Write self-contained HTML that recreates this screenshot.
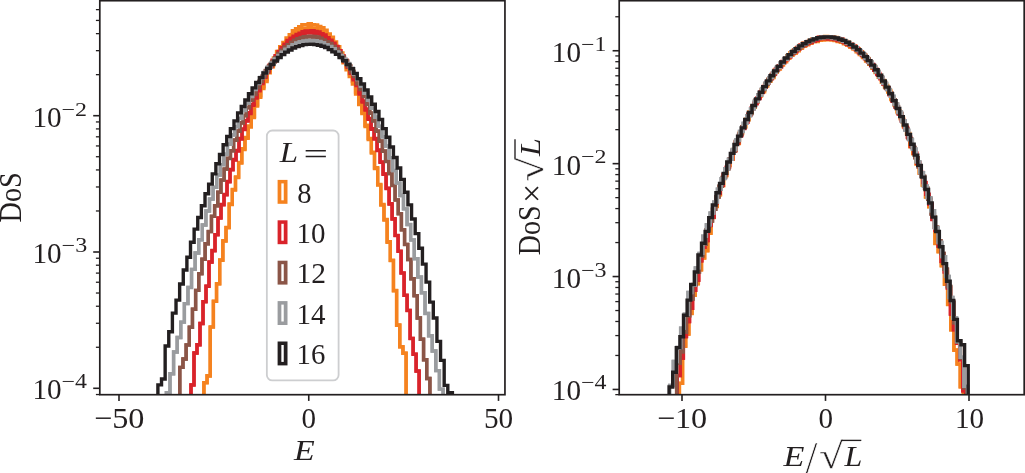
<!DOCTYPE html>
<html><head><meta charset="utf-8"><title>DoS</title>
<style>html,body{margin:0;padding:0;background:#fff}svg{display:block}</style></head>
<body>
<svg width="1025" height="473" viewBox="0 0 1025 473" font-family="'Liberation Serif', serif" fill="#231f20">
<rect width="1025" height="473" fill="#fff"/>
<defs>
<clipPath id="cl"><rect x="99.8" y="0.7" width="405.15" height="394.0"/></clipPath>
<clipPath id="cr"><rect x="619.2" y="0.7" width="405.0" height="394.0"/></clipPath>
</defs>
<g clip-path="url(#cl)"><path d="M203.90,398.70V382.78H207.06V375.98H210.22V327.08H213.38V301.36H216.54V283.92H219.70V260.27H222.86V241.13H226.02V227.70H229.18V204.43H232.33V189.95H235.49V177.52H238.65V163.10H241.81V149.46H244.97V138.34H248.13V127.05H251.29V117.43H254.45V106.12H257.61V97.24H260.77V88.64H263.93V81.54H267.09V72.84H270.25V66.70H273.41V60.69H276.57V54.25H279.73V49.80H282.88V45.62H286.04V41.25H289.20V38.23H292.36V34.28H295.52V32.19H298.68V30.32H301.84V28.40H305.00V28.25H308.16V27.32H311.32V28.24H314.48V28.64H317.64V30.13H320.80V31.33H323.96V33.75H327.12V37.43H330.28V40.81H333.43V45.42H336.59V50.14H339.75V56.14H342.91V62.73H346.07V69.75H349.23V76.54H352.39V84.00H355.55V94.08H358.71V104.54H361.87V113.63H365.03V126.62H368.19V139.49H371.35V153.10H374.51V168.57H377.67V185.12H380.83V205.10H383.98V220.01H387.14V242.24H390.30V260.58H393.46V290.78H396.62V325.24H399.78V346.91H402.94V353.30H406.10V398.70" fill="none" stroke="#f5821f" stroke-width="3.4" stroke-linejoin="miter"/>
<path d="M203.90,398.70V382.62H207.06V375.82H210.22V326.90H213.38V301.15H216.54V283.69H219.70V260.01H222.86V240.82H226.02V227.35H229.18V204.03H232.33V189.48H235.49V176.98H238.65V162.47H241.81V148.73H244.97V137.50H248.13V126.07H251.29V116.29H254.45V104.80H257.61V95.73H260.77V86.90H263.93V79.57H267.09V70.63H270.25V64.25H273.41V58.00H276.57V51.36H279.73V46.71H282.88V42.38H286.04V37.88H289.20V34.77H292.36V30.76H295.52V28.63H298.68V26.74H301.84V24.80H305.00V24.65H308.16V23.72H311.32V24.64H314.48V25.04H317.64V26.53H320.80V27.73H323.96V30.16H327.12V33.87H330.28V37.28H333.43V41.96H336.59V46.77H339.75V52.91H342.91V59.67H346.07V66.90H349.23V73.92H352.39V81.64H355.55V91.99H358.71V102.71H361.87V112.05H365.03V125.27H368.19V138.34H371.35V152.13H374.51V167.75H377.67V184.43H380.83V204.51H383.98V219.52H387.14V241.82H390.30V260.23H393.46V290.47H396.62V324.99H399.78V346.69H402.94V353.10H406.10V398.70" fill="none" stroke="#f5821f" stroke-width="3.4" stroke-linejoin="miter"/>
<path d="M191.00,398.70V384.94H194.00V353.04H197.00V344.82H200.00V323.57H203.01V301.74H206.01V286.27H209.01V262.16H212.01V250.71H215.01V234.77H218.01V218.13H221.01V204.80H224.01V194.70H227.02V181.82H230.02V169.88H233.02V159.95H236.02V150.94H239.02V139.01H242.02V129.56H245.02V121.09H248.03V113.51H251.03V105.20H254.03V97.93H257.03V90.78H260.03V83.57H263.03V77.37H266.03V71.96H269.03V66.67H272.04V61.70H275.04V57.37H278.04V53.23H281.04V49.63H284.04V46.06H287.04V42.41H290.04V40.17H293.04V38.26H296.05V36.43H299.05V35.07H302.05V33.65H305.05V32.95H308.05V33.16H311.05V32.74H314.05V33.54H317.06V33.91H320.06V35.59H323.06V36.92H326.06V39.69H329.06V42.25H332.06V45.14H335.06V48.41H338.06V52.48H341.07V57.42H344.07V61.86H347.07V67.26H350.07V73.26H353.07V79.71H356.07V85.64H359.07V93.94H362.08V102.16H365.08V109.97H368.08V119.41H371.08V129.34H374.08V139.14H377.08V150.48H380.08V162.42H383.08V174.31H386.09V188.51H389.09V204.15H392.09V219.06H395.09V235.67H398.09V251.38H401.09V273.09H404.09V295.38H407.09V310.53H410.10V338.46H413.10V354.25H416.10V371.15H419.10V398.70" fill="none" stroke="#d9232a" stroke-width="3.4" stroke-linejoin="miter"/>
<path d="M191.00,398.70V384.86H194.00V352.96H197.00V344.73H200.00V323.47H203.01V301.62H206.01V286.14H209.01V262.01H212.01V250.54H215.01V234.58H218.01V217.92H221.01V204.56H224.01V194.43H227.02V181.51H230.02V169.53H233.02V159.55H236.02V150.49H239.02V138.50H242.02V128.99H245.02V120.44H248.03V112.78H251.03V104.37H254.03V97.00H257.03V89.74H260.03V82.42H263.03V76.11H266.03V70.58H269.03V65.19H272.04V60.12H275.04V55.69H278.04V51.47H281.04V47.80H284.04V44.18H287.04V40.49H290.04V38.22H293.04V36.29H296.05V34.46H299.05V33.08H302.05V31.66H305.05V30.96H308.05V31.17H311.05V30.75H314.05V31.55H317.06V31.92H320.06V33.61H323.06V34.93H326.06V37.71H329.06V40.28H332.06V43.18H335.06V46.48H338.06V50.60H341.07V55.58H344.07V60.10H347.07V65.58H350.07V71.68H353.07V78.24H356.07V84.29H359.07V92.71H362.08V101.06H365.08V108.99H368.08V118.54H371.08V128.59H374.08V138.48H377.08V149.90H380.08V161.92H383.08V173.87H386.09V188.13H389.09V203.82H392.09V218.77H395.09V235.42H398.09V251.17H401.09V272.91H404.09V295.22H407.09V310.39H410.10V338.34H413.10V354.15H416.10V371.05H419.10V398.70" fill="none" stroke="#d9232a" stroke-width="3.4" stroke-linejoin="miter"/>
<path d="M179.80,398.70V367.42H182.97V359.02H186.13V344.93H189.30V327.30H192.46V309.30H195.63V290.41H198.79V273.70H201.96V259.29H205.13V243.78H208.29V231.65H211.46V216.39H214.62V205.88H217.79V192.22H220.96V180.10H224.12V169.09H227.29V158.49H230.45V150.88H233.62V140.22H236.78V131.22H239.95V123.01H243.12V115.88H246.28V107.84H249.45V100.26H252.61V94.65H255.78V87.74H258.95V81.66H262.11V76.60H265.28V71.11H268.44V66.71H271.61V62.22H274.77V58.15H277.94V54.22H281.11V50.94H284.27V47.73H287.44V45.49H290.60V43.05H293.77V40.92H296.94V39.44H300.10V38.63H303.27V37.40H306.43V37.17H309.60V36.90H312.76V37.19H315.93V37.66H319.10V38.92H322.26V40.75H325.43V42.46H328.59V44.24H331.76V47.06H334.93V49.78H338.09V53.40H341.26V57.48H344.42V61.36H347.59V66.52H350.75V72.01H353.92V76.62H357.09V83.79H360.25V89.67H363.42V96.66H366.58V104.52H369.75V113.37H372.92V120.96H376.08V131.38H379.25V141.26H382.41V151.21H385.58V161.53H388.74V173.62H391.91V185.59H395.08V200.00H398.24V213.72H401.41V229.86H404.57V244.47H407.74V259.53H410.91V278.75H414.07V295.71H417.24V318.04H420.40V339.29H423.57V359.79H426.73V378.52H429.90V398.70" fill="none" stroke="#8b5547" stroke-width="3.4" stroke-linejoin="miter"/>
<path d="M179.80,398.70V367.38H182.97V358.98H186.13V344.89H189.30V327.26H192.46V309.25H195.63V290.35H198.79V273.64H201.96V259.22H205.13V243.70H208.29V231.57H211.46V216.30H214.62V205.77H217.79V192.10H220.96V179.97H224.12V168.94H227.29V158.32H230.45V150.69H233.62V140.00H236.78V130.97H239.95V122.73H243.12V115.57H246.28V107.49H249.45V99.87H252.61V94.22H255.78V87.26H258.95V81.13H262.11V76.03H265.28V70.50H268.44V66.06H271.61V61.53H274.77V57.43H277.94V53.48H281.11V50.17H284.27V46.95H287.44V44.70H290.60V42.25H293.77V40.10H296.94V38.63H300.10V37.82H303.27V36.58H306.43V36.35H309.60V36.08H312.76V36.38H315.93V36.84H319.10V38.11H322.26V39.93H325.43V41.65H328.59V43.43H331.76V46.25H334.93V48.98H338.09V52.61H341.26V56.71H344.42V60.61H347.59V65.80H350.75V71.32H353.92V75.97H357.09V83.18H360.25V89.11H363.42V96.15H366.58V104.06H369.75V112.96H372.92V120.60H376.08V131.05H379.25V140.98H382.41V150.96H385.58V161.31H388.74V173.43H391.91V185.42H395.08V199.86H398.24V213.60H401.41V229.75H404.57V244.38H407.74V259.44H410.91V278.68H414.07V295.65H417.24V317.98H420.40V339.24H423.57V359.75H426.73V378.48H429.90V398.70" fill="none" stroke="#8b5547" stroke-width="3.4" stroke-linejoin="miter"/>
<path d="M166.40,398.70V392.81H170.00V373.81H173.59V352.01H177.18V337.50H180.78V322.11H184.37V303.65H187.96V287.44H191.55V269.36H195.14V252.98H198.74V239.79H202.33V225.03H205.92V211.06H209.51V199.10H213.10V187.33H216.70V175.02H220.29V164.69H223.88V154.26H227.47V144.21H231.06V135.01H234.66V126.76H238.25V118.50H241.84V110.45H245.43V103.17H249.02V96.60H252.62V89.44H256.21V83.61H259.80V77.82H263.39V72.88H266.98V67.65H270.58V63.49H274.17V59.38H277.76V55.91H281.35V52.49H284.94V49.65H288.54V47.18H292.13V45.04H295.72V43.42H299.31V42.03H302.90V41.37H306.50V40.98H310.09V40.80H313.68V41.07H317.27V41.76H320.86V43.02H324.46V45.00H328.05V46.77H331.64V49.12H335.23V52.26H338.82V55.74H342.42V59.49H346.01V63.95H349.60V68.60H353.19V74.02H356.78V79.61H360.38V86.10H363.97V93.22H367.56V100.36H371.15V108.26H374.74V117.23H378.34V126.38H381.93V136.88H385.52V146.14H389.11V157.92H392.70V170.62H396.30V183.14H399.89V195.54H403.48V208.91H407.07V224.62H410.66V239.94H414.26V258.68H417.85V277.11H421.44V292.75H425.03V313.44H428.62V335.85H432.22V351.01H435.81V370.61H439.40V389.11H443.10V398.70" fill="none" stroke="#9a9c9f" stroke-width="3.4" stroke-linejoin="miter"/>
<path d="M166.40,398.70V392.79H170.00V373.79H173.59V351.99H177.18V337.48H180.78V322.09H184.37V303.63H187.96V287.41H191.55V269.33H195.14V252.94H198.74V239.76H202.33V224.98H205.92V211.01H209.51V199.05H213.10V187.27H216.70V174.95H220.29V164.60H223.88V154.17H227.47V144.10H231.06V134.89H234.66V126.62H238.25V118.34H241.84V110.27H245.43V102.97H249.02V96.38H252.62V89.20H256.21V83.34H259.80V77.53H263.39V72.57H266.98V67.31H270.58V63.14H274.17V59.01H277.76V55.53H281.35V52.10H284.94V49.25H288.54V46.78H292.13V44.63H295.72V43.02H299.31V41.63H302.90V40.96H306.50V40.57H310.09V40.39H313.68V40.66H317.27V41.35H320.86V42.61H324.46V44.59H328.05V46.36H331.64V48.71H335.23V51.86H338.82V55.35H342.42V59.10H346.01V63.57H349.60V68.24H353.19V73.67H356.78V79.28H360.38V85.79H363.97V92.93H367.56V100.11H371.15V108.03H374.74V117.02H378.34V126.20H381.93V136.72H385.52V146.01H389.11V157.80H392.70V170.51H396.30V183.05H399.89V195.47H403.48V208.84H407.07V224.56H410.66V239.89H414.26V258.63H417.85V277.07H421.44V292.72H425.03V313.41H428.62V335.82H432.22V350.99H435.81V370.59H439.40V389.09H443.10V398.70" fill="none" stroke="#9a9c9f" stroke-width="3.4" stroke-linejoin="miter"/>
<path d="M157.90,398.70V384.90H161.52V379.00H165.15V346.02H168.77V331.72H172.40V313.11H176.02V300.16H179.64V283.98H183.27V269.95H186.89V257.18H190.51V242.31H194.14V229.08H197.76V217.52H201.38V205.71H205.01V193.75H208.63V184.17H212.26V173.90H215.88V163.71H219.50V154.45H223.13V144.74H226.75V136.49H230.38V128.63H234.00V120.84H237.62V112.85H241.25V106.56H244.87V100.03H248.49V93.70H252.12V87.86H255.74V82.50H259.37V77.59H262.99V72.93H266.61V68.38H270.24V64.49H273.86V61.05H277.48V57.47H281.11V54.60H284.73V52.16H288.36V49.96H291.98V48.06H295.60V46.66H299.23V45.60H302.85V44.63H306.47V44.41H310.10V44.15H313.72V44.66H317.35V45.20H320.97V46.26H324.59V47.48H328.22V49.61H331.84V51.86H335.46V54.38H339.09V57.45H342.71V60.81H346.34V64.53H349.96V68.75H353.58V73.34H357.21V78.78H360.83V83.93H364.45V90.07H368.08V96.93H371.70V104.31H375.32V111.48H378.95V119.50H382.57V128.62H386.20V137.24H389.82V147.03H393.44V157.53H397.07V167.98H400.69V179.37H404.31V192.24H407.94V204.84H411.56V219.03H415.19V233.63H418.81V248.32H422.43V264.08H426.06V282.17H429.68V302.14H433.30V318.06H436.93V341.33H440.55V360.35H444.18V385.40H447.80V392.80H452.40V398.70" fill="none" stroke="#231f20" stroke-width="3.4" stroke-linejoin="miter"/></g>
<g clip-path="url(#cr)"><path d="M673.10,398.70V398.70H676.26V398.70H679.41V383.42H682.57V346.24H685.72V334.14H688.88V313.46H692.03V295.20H695.19V283.80H698.34V269.92H701.50V257.97H704.65V250.88H707.81V233.30H710.97V217.59H714.12V206.63H717.28V194.85H720.43V185.78H723.59V175.72H726.74V165.74H729.90V159.26H733.05V150.19H736.21V143.59H739.36V133.60H742.52V127.28H745.68V120.14H748.83V113.02H751.99V107.22H755.14V102.01H758.30V96.05H761.45V91.76H764.61V85.99H767.76V81.40H770.92V77.54H774.07V72.41H777.23V69.10H780.38V65.04H783.54V61.92H786.70V58.38H789.85V55.38H793.01V53.21H796.16V50.92H799.32V48.39H802.47V46.20H805.63V44.76H808.78V43.34H811.94V41.87H815.09V41.62H818.25V40.42H821.41V40.11H824.56V39.51H827.72V39.77H830.87V40.15H834.03V40.53H837.18V41.60H840.34V42.35H843.49V43.85H846.65V45.40H849.80V47.37H852.96V49.17H856.12V51.85H859.27V54.43H862.43V57.46H865.58V61.11H868.74V64.36H871.89V68.34H875.05V72.58H878.20V77.38H881.36V82.30H884.51V87.09H887.67V92.06H890.83V99.43H893.98V105.12H897.14V112.44H900.29V118.89H903.45V126.78H906.60V134.33H909.76V146.78H912.91V153.81H916.07V164.16H919.22V173.36H922.38V185.41H925.53V197.10H928.69V206.81H931.85V216.86H935.00V243.51H938.16V251.76H941.31V265.87H944.47V284.32H947.62V304.56H950.78V329.88H953.93V350.18H957.09V364.10H960.24V386.84H963.40V398.70" fill="none" stroke="#f5821f" stroke-width="3.4" stroke-linejoin="miter"/>
<path d="M673.10,398.70V398.70H676.26V398.70H679.41V383.32H682.57V346.12H685.72V334.02H688.88V313.32H692.03V295.04H695.19V283.62H698.34V269.73H701.50V257.76H704.65V250.64H707.81V233.04H710.97V217.31H714.12V206.31H717.28V194.49H720.43V185.38H723.59V175.27H726.74V165.24H729.90V158.70H733.05V149.57H736.21V142.90H739.36V132.82H742.52V126.41H745.68V119.18H748.83V111.94H751.99V106.02H755.14V100.68H758.30V94.58H761.45V90.15H764.61V84.23H767.76V79.49H770.92V75.48H774.07V70.21H777.23V66.76H780.38V62.58H783.54V59.34H786.70V55.71H789.85V52.62H793.01V50.39H796.16V48.05H799.32V45.48H802.47V43.26H805.63V41.81H808.78V40.37H811.94V38.89H815.09V38.64H818.25V37.44H821.41V37.13H824.56V36.53H827.72V36.79H830.87V37.17H834.03V37.55H837.18V38.62H840.34V39.38H843.49V40.89H846.65V42.45H849.80V44.45H852.96V46.27H856.12V49.01H859.27V51.65H862.43V54.76H865.58V58.50H868.74V61.87H871.89V65.98H875.05V70.37H878.20V75.33H881.36V80.42H884.51V85.37H887.67V90.50H890.83V98.03H893.98V103.86H897.14V111.32H900.29V117.91H903.45V125.90H906.60V133.55H909.76V146.10H912.91V153.21H916.07V163.63H919.22V172.89H922.38V185.00H925.53V196.73H928.69V206.49H931.85V216.58H935.00V243.26H938.16V251.53H941.31V265.67H944.47V284.15H947.62V304.40H950.78V329.74H953.93V350.05H957.09V363.98H960.24V386.74H963.40V398.70" fill="none" stroke="#f5821f" stroke-width="3.4" stroke-linejoin="miter"/>
<path d="M671.10,398.70V398.70H674.17V398.70H677.24V375.51H680.31V358.03H683.38V336.56H686.45V321.54H689.52V308.29H692.59V290.32H695.66V280.19H698.73V260.89H701.80V247.34H704.87V240.67H707.94V225.55H711.01V217.14H714.08V202.97H717.15V193.31H720.22V185.35H723.29V174.62H726.36V167.53H729.43V159.29H732.50V151.12H735.57V143.04H738.64V135.82H741.71V128.46H744.78V122.23H747.84V115.04H750.91V108.85H753.98V103.76H757.05V98.60H760.12V92.46H763.19V87.33H766.26V83.05H769.33V78.92H772.40V74.21H775.47V69.87H778.54V67.06H781.61V62.93H784.68V59.87H787.75V56.97H790.82V53.85H793.89V51.71H796.96V49.01H800.03V46.67H803.10V45.07H806.17V43.67H809.24V42.48H812.31V41.20H815.38V40.39H818.45V38.92H821.52V38.89H824.59V38.85H827.66V38.94H830.73V39.16H833.80V39.51H836.87V40.49H839.94V40.84H843.01V42.67H846.08V44.21H849.15V45.75H852.22V47.54H855.29V49.88H858.36V52.90H861.43V55.59H864.50V58.76H867.57V62.09H870.64V65.88H873.71V70.23H876.78V74.66H879.85V78.87H882.92V84.28H885.99V88.67H889.06V94.79H892.12V101.24H895.19V107.30H898.26V114.14H901.33V121.07H904.40V127.88H907.47V137.53H910.54V146.39H913.61V153.37H916.68V163.19H919.75V172.64H922.82V182.61H925.89V194.39H928.96V204.31H932.03V219.48H935.10V230.51H938.17V246.16H941.24V261.53H944.31V271.95H947.38V288.00H950.45V314.04H953.52V329.68H956.59V343.18H959.66V359.79H962.73V390.87H965.80V398.70" fill="none" stroke="#d9232a" stroke-width="3.4" stroke-linejoin="miter"/>
<path d="M671.10,398.70V398.70H674.17V398.70H677.24V375.45H680.31V357.97H683.38V336.49H686.45V321.46H689.52V308.21H692.59V290.23H695.66V280.10H698.73V260.78H701.80V247.22H704.87V240.54H707.94V225.40H711.01V216.98H714.08V202.80H717.15V193.12H720.22V185.13H723.29V174.38H726.36V167.26H729.43V158.98H732.50V150.79H735.57V142.67H738.64V135.40H741.71V128.00H744.78V121.71H747.84V114.47H750.91V108.21H753.98V103.06H757.05V97.82H760.12V91.60H763.19V86.40H766.26V82.04H769.33V77.82H772.40V73.03H775.47V68.62H778.54V65.74H781.61V61.55H784.68V58.43H787.75V55.48H790.82V52.32H793.89V50.14H796.96V47.41H800.03V45.06H803.10V43.44H806.17V42.04H809.24V40.83H812.31V39.55H815.38V38.74H818.45V37.27H821.52V37.24H824.59V37.20H827.66V37.29H830.73V37.51H833.80V37.86H836.87V38.85H839.94V39.20H843.01V41.03H846.08V42.57H849.15V44.13H852.22V45.93H855.29V48.30H858.36V51.35H861.43V54.08H864.50V57.30H867.57V60.69H870.64V64.54H873.71V68.97H876.78V73.48H879.85V77.78H882.92V83.28H885.99V87.76H889.06V93.97H892.12V100.50H895.19V106.63H898.26V113.55H901.33V120.54H904.40V127.42H907.47V137.11H910.54V146.03H913.61V153.04H916.68V162.91H919.75V172.39H922.82V182.38H925.89V194.19H928.96V204.13H932.03V219.32H935.10V230.37H938.17V246.04H941.24V261.42H944.31V271.85H947.38V287.91H950.45V313.96H953.52V329.61H956.59V343.11H959.66V359.73H962.73V390.82H965.80V398.70" fill="none" stroke="#d9232a" stroke-width="3.4" stroke-linejoin="miter"/>
<path d="M670.10,398.70V398.70H673.36V398.70H676.63V363.35H679.89V351.81H683.15V332.27H686.41V315.91H689.68V299.03H692.94V284.59H696.20V272.12H699.46V256.10H702.73V244.24H705.99V229.83H709.25V221.00H712.51V209.31H715.78V197.05H719.04V186.19H722.30V177.54H725.56V168.88H728.83V159.42H732.09V151.11H735.35V141.48H738.62V134.35H741.88V126.79H745.14V120.18H748.40V113.79H751.67V106.73H754.93V100.50H758.19V95.08H761.45V89.77H764.72V84.29H767.98V79.75H771.24V74.86H774.50V70.85H777.77V66.83H781.03V62.73H784.29V59.26H787.55V55.73H790.82V53.14H794.08V50.36H797.34V48.11H800.61V46.04H803.87V44.10H807.13V42.06H810.39V40.94H813.66V39.42H816.92V38.50H820.18V38.20H823.44V37.55H826.71V37.74H829.97V37.81H833.23V38.54H836.49V39.13H839.76V40.52H843.02V41.61H846.28V43.44H849.55V45.33H852.81V47.44H856.07V50.06H859.33V52.96H862.60V55.99H865.86V59.46H869.12V63.71H872.38V67.48H875.65V71.94H878.91V77.11H882.17V82.05H885.43V88.08H888.70V93.27H891.96V100.12H895.22V106.83H898.48V113.50H901.75V121.65H905.01V129.35H908.27V138.76H911.54V147.55H914.80V157.70H918.06V166.92H921.32V176.40H924.59V188.31H927.85V199.31H931.11V214.17H934.37V227.28H937.64V240.64H940.90V253.45H944.16V269.31H947.42V286.55H950.69V302.27H953.95V322.89H957.21V342.16H960.47V358.12H963.74V387.75H967.00V398.70" fill="none" stroke="#8b5547" stroke-width="3.4" stroke-linejoin="miter"/>
<path d="M670.10,398.70V398.70H673.36V398.70H676.63V363.32H679.89V351.79H683.15V332.24H686.41V315.88H689.68V299.00H692.94V284.55H696.20V272.08H699.46V256.06H702.73V244.19H705.99V229.77H709.25V220.93H712.51V209.24H715.78V196.98H719.04V186.10H722.30V177.44H725.56V168.77H728.83V159.30H732.09V150.98H735.35V141.33H738.62V134.17H741.88V126.59H745.14V119.97H748.40V113.55H751.67V106.46H754.93V100.20H758.19V94.74H761.45V89.40H764.72V83.88H767.98V79.31H771.24V74.39H774.50V70.34H777.77V66.29H781.03V62.17H784.29V58.67H787.55V55.11H790.82V52.51H794.08V49.72H797.34V47.46H800.61V45.38H803.87V43.43H807.13V41.38H810.39V40.26H813.66V38.74H816.92V37.83H820.18V37.52H823.44V36.87H826.71V37.06H829.97V37.13H833.23V37.87H836.49V38.45H839.76V39.84H843.02V40.94H846.28V42.77H849.55V44.66H852.81V46.78H856.07V49.42H859.33V52.33H862.60V55.38H865.86V58.87H869.12V63.14H872.38V66.95H875.65V71.45H878.91V76.65H882.17V81.63H885.43V87.70H888.70V92.92H891.96V99.81H895.22V106.56H898.48V113.26H901.75V121.44H905.01V129.16H908.27V138.60H911.54V147.40H914.80V157.58H918.06V166.81H921.32V176.31H924.59V188.22H927.85V199.23H931.11V214.10H934.37V227.22H937.64V240.58H940.90V253.40H944.16V269.26H947.42V286.51H950.69V302.24H953.95V322.86H957.21V342.14H960.47V358.09H963.74V387.73H967.00V398.70" fill="none" stroke="#8b5547" stroke-width="3.4" stroke-linejoin="miter"/>
<path d="M669.60,398.70V385.56H673.28V361.46H676.96V347.48H680.64V328.09H684.32V314.19H688.00V292.53H691.67V285.03H695.35V267.90H699.03V253.36H702.71V236.16H706.39V224.84H710.07V213.08H713.75V202.09H717.43V189.30H721.11V178.67H724.79V168.82H728.46V159.33H732.14V149.62H735.82V140.02H739.50V131.45H743.18V123.41H746.86V115.76H750.54V108.87H754.22V101.46H757.90V95.15H761.58V88.75H765.25V82.88H768.93V77.63H772.61V72.60H776.29V67.58H779.97V63.29H783.65V59.39H787.33V55.98H791.01V52.27H794.69V49.17H798.37V46.44H802.04V44.30H805.72V42.30H809.40V40.61H813.08V39.13H816.76V38.37H820.44V37.61H824.12V37.40H827.80V37.31H831.48V37.91H835.16V38.45H838.83V39.66H842.51V41.11H846.19V42.88H849.87V45.03H853.55V47.97H857.23V50.65H860.91V54.10H864.59V58.01H868.27V62.00H871.95V66.80H875.62V71.71H879.30V77.53H882.98V83.57H886.66V89.64H890.34V96.36H894.02V104.13H897.70V112.01H901.38V120.93H905.06V130.35H908.74V139.63H912.41V149.10H916.09V161.79H919.77V172.68H923.45V186.09H927.13V197.66H930.81V210.77H934.49V227.75H938.17V242.52H941.85V256.66H945.53V276.43H949.20V297.48H952.88V318.03H956.56V341.55H960.24V357.32H963.92V386.36H967.60V398.70" fill="none" stroke="#9a9c9f" stroke-width="3.4" stroke-linejoin="miter"/>
<path d="M669.60,398.70V385.55H673.28V361.45H676.96V347.47H680.64V328.08H684.32V314.18H688.00V292.51H691.67V285.01H695.35V267.88H699.03V253.34H702.71V236.13H706.39V224.81H710.07V213.05H713.75V202.05H717.43V189.26H721.11V178.62H724.79V168.77H728.46V159.27H732.14V149.55H735.82V139.94H739.50V131.36H743.18V123.31H746.86V115.65H750.54V108.73H754.22V101.32H757.90V94.98H761.58V88.57H765.25V82.68H768.93V77.41H772.61V72.35H776.29V67.32H779.97V63.01H783.65V59.09H787.33V55.67H791.01V51.95H794.69V48.85H798.37V46.11H802.04V43.97H805.72V41.96H809.40V40.27H813.08V38.80H816.76V38.03H820.44V37.27H824.12V37.06H827.80V36.97H831.48V37.58H835.16V38.11H838.83V39.33H842.51V40.78H846.19V42.54H849.87V44.70H853.55V47.64H857.23V50.33H860.91V53.79H864.59V57.71H868.27V61.72H871.95V66.54H875.62V71.47H879.30V77.30H882.98V83.37H886.66V89.46H890.34V96.20H894.02V103.99H897.70V111.89H901.38V120.82H905.06V130.26H908.74V139.55H912.41V149.03H916.09V161.73H919.77V172.63H923.45V186.05H927.13V197.62H930.81V210.74H934.49V227.72H938.17V242.49H941.85V256.64H945.53V276.41H949.20V297.46H952.88V318.01H956.56V341.54H960.24V357.31H963.92V386.35H967.60V398.70" fill="none" stroke="#9a9c9f" stroke-width="3.4" stroke-linejoin="miter"/>
<path d="M669.10,398.70V387.00H672.70V372.20H676.31V347.80H679.91V336.70H683.51V315.21H687.12V300.08H690.72V284.52H694.33V271.96H697.93V255.06H701.53V243.25H705.14V231.36H708.74V217.60H712.34V205.05H715.95V192.79H719.55V183.35H723.15V173.41H726.76V162.06H730.36V153.41H733.97V144.53H737.57V136.15H741.17V127.91H744.78V119.54H748.38V112.52H751.98V105.54H755.59V98.87H759.19V92.26H762.79V86.65H766.40V80.91H770.00V75.72H773.60V70.84H777.21V66.40H780.81V62.02H784.42V58.04H788.02V54.65H791.62V51.49H795.23V48.62H798.83V45.90H802.43V43.68H806.04V41.73H809.64V40.11H813.24V38.96H816.85V37.79H820.45V37.21H824.06V36.94H827.66V36.94H831.26V37.25H834.87V38.04H838.47V39.18H842.07V40.40H845.68V42.31H849.28V44.46H852.88V47.02H856.49V49.74H860.09V53.09H863.70V56.67H867.30V60.60H870.90V65.08H874.51V69.82H878.11V75.18H881.71V80.99H885.32V87.15H888.92V93.81H892.52V100.73H896.13V108.44H899.73V116.65H903.33V125.00H906.94V134.37H910.54V144.32H914.15V155.09H917.75V165.37H921.35V177.10H924.96V189.55H928.56V202.95H932.16V217.16H935.77V231.49H939.37V246.73H942.97V263.66H946.58V281.32H950.18V300.52H953.79V319.35H957.39V340.76H960.99V344.80H964.60V365.60H968.20V398.70" fill="none" stroke="#231f20" stroke-width="3.4" stroke-linejoin="miter"/></g>
<rect x="266.85" y="130.5" width="71.75" height="249.9" rx="5.5" ry="5.5" fill="#fff" fill-opacity="0.8" stroke="#cdced0" stroke-width="1.8"/>
<text transform="matrix(1.0955,0,0,1.0000,279.638,162.100)" font-size="30" font-style="italic">L</text>
<text transform="matrix(1.4500,0,0,0.9733,303.525,164.435)" font-size="30">=</text>
<rect x="277.6" y="179.90" width="9.9" height="23.9" fill="#f5821f"/>
<rect x="281.35" y="183.40" width="2.4" height="16.90" fill="#fff"/>
<text transform="matrix(0.9531,0,0,1.0148,297.352,202.596)" font-size="30">8</text>
<rect x="277.6" y="220.30" width="9.9" height="23.9" fill="#d9232a"/>
<rect x="281.35" y="223.80" width="2.4" height="16.90" fill="#fff"/>
<text transform="matrix(0.9658,0,0,1.0049,296.489,242.999)" font-size="30">10</text>
<rect x="277.6" y="260.70" width="9.9" height="23.9" fill="#8b5547"/>
<rect x="281.35" y="264.20" width="2.4" height="16.90" fill="#fff"/>
<text transform="matrix(0.9845,0,0,1.0050,296.440,283.300)" font-size="30">12</text>
<rect x="277.6" y="301.10" width="9.9" height="23.9" fill="#9a9c9f"/>
<rect x="281.35" y="304.60" width="2.4" height="16.90" fill="#fff"/>
<text transform="matrix(0.9665,0,0,1.0101,296.487,323.700)" font-size="30">14</text>
<rect x="277.6" y="341.50" width="9.9" height="23.9" fill="#231f20"/>
<rect x="281.35" y="345.00" width="2.4" height="16.90" fill="#fff"/>
<text transform="matrix(0.9585,0,0,1.0099,296.508,364.197)" font-size="30">16</text>
<rect x="99.8" y="0.7" width="405.15" height="394.0" fill="none" stroke="#231f20" stroke-width="1.7"/>
<rect x="619.2" y="0.7" width="405.0" height="394.0" fill="none" stroke="#231f20" stroke-width="1.7"/>
<line x1="95.90" x2="99.80" y1="394.54" y2="394.54" stroke="#231f20" stroke-width="1.3"/>
<line x1="93.20" x2="99.80" y1="388.30" y2="388.30" stroke="#231f20" stroke-width="1.6"/>
<line x1="95.90" x2="99.80" y1="347.27" y2="347.27" stroke="#231f20" stroke-width="1.3"/>
<line x1="95.90" x2="99.80" y1="323.27" y2="323.27" stroke="#231f20" stroke-width="1.3"/>
<line x1="95.90" x2="99.80" y1="306.24" y2="306.24" stroke="#231f20" stroke-width="1.3"/>
<line x1="95.90" x2="99.80" y1="293.03" y2="293.03" stroke="#231f20" stroke-width="1.3"/>
<line x1="95.90" x2="99.80" y1="282.24" y2="282.24" stroke="#231f20" stroke-width="1.3"/>
<line x1="95.90" x2="99.80" y1="273.11" y2="273.11" stroke="#231f20" stroke-width="1.3"/>
<line x1="95.90" x2="99.80" y1="265.21" y2="265.21" stroke="#231f20" stroke-width="1.3"/>
<line x1="95.90" x2="99.80" y1="258.24" y2="258.24" stroke="#231f20" stroke-width="1.3"/>
<line x1="93.20" x2="99.80" y1="252.00" y2="252.00" stroke="#231f20" stroke-width="1.6"/>
<line x1="95.90" x2="99.80" y1="210.97" y2="210.97" stroke="#231f20" stroke-width="1.3"/>
<line x1="95.90" x2="99.80" y1="186.97" y2="186.97" stroke="#231f20" stroke-width="1.3"/>
<line x1="95.90" x2="99.80" y1="169.94" y2="169.94" stroke="#231f20" stroke-width="1.3"/>
<line x1="95.90" x2="99.80" y1="156.73" y2="156.73" stroke="#231f20" stroke-width="1.3"/>
<line x1="95.90" x2="99.80" y1="145.94" y2="145.94" stroke="#231f20" stroke-width="1.3"/>
<line x1="95.90" x2="99.80" y1="136.81" y2="136.81" stroke="#231f20" stroke-width="1.3"/>
<line x1="95.90" x2="99.80" y1="128.91" y2="128.91" stroke="#231f20" stroke-width="1.3"/>
<line x1="95.90" x2="99.80" y1="121.94" y2="121.94" stroke="#231f20" stroke-width="1.3"/>
<line x1="93.20" x2="99.80" y1="115.70" y2="115.70" stroke="#231f20" stroke-width="1.6"/>
<line x1="95.90" x2="99.80" y1="74.67" y2="74.67" stroke="#231f20" stroke-width="1.3"/>
<line x1="95.90" x2="99.80" y1="50.67" y2="50.67" stroke="#231f20" stroke-width="1.3"/>
<line x1="95.90" x2="99.80" y1="33.64" y2="33.64" stroke="#231f20" stroke-width="1.3"/>
<line x1="95.90" x2="99.80" y1="20.43" y2="20.43" stroke="#231f20" stroke-width="1.3"/>
<line x1="95.90" x2="99.80" y1="9.64" y2="9.64" stroke="#231f20" stroke-width="1.3"/>
<line x1="615.30" x2="619.20" y1="394.62" y2="394.62" stroke="#231f20" stroke-width="1.3"/>
<line x1="612.60" x2="619.20" y1="389.45" y2="389.45" stroke="#231f20" stroke-width="1.6"/>
<line x1="615.30" x2="619.20" y1="355.46" y2="355.46" stroke="#231f20" stroke-width="1.3"/>
<line x1="615.30" x2="619.20" y1="335.58" y2="335.58" stroke="#231f20" stroke-width="1.3"/>
<line x1="615.30" x2="619.20" y1="321.48" y2="321.48" stroke="#231f20" stroke-width="1.3"/>
<line x1="615.30" x2="619.20" y1="310.54" y2="310.54" stroke="#231f20" stroke-width="1.3"/>
<line x1="615.30" x2="619.20" y1="301.60" y2="301.60" stroke="#231f20" stroke-width="1.3"/>
<line x1="615.30" x2="619.20" y1="294.04" y2="294.04" stroke="#231f20" stroke-width="1.3"/>
<line x1="615.30" x2="619.20" y1="287.49" y2="287.49" stroke="#231f20" stroke-width="1.3"/>
<line x1="615.30" x2="619.20" y1="281.72" y2="281.72" stroke="#231f20" stroke-width="1.3"/>
<line x1="612.60" x2="619.20" y1="276.55" y2="276.55" stroke="#231f20" stroke-width="1.6"/>
<line x1="615.30" x2="619.20" y1="242.56" y2="242.56" stroke="#231f20" stroke-width="1.3"/>
<line x1="615.30" x2="619.20" y1="222.68" y2="222.68" stroke="#231f20" stroke-width="1.3"/>
<line x1="615.30" x2="619.20" y1="208.58" y2="208.58" stroke="#231f20" stroke-width="1.3"/>
<line x1="615.30" x2="619.20" y1="197.64" y2="197.64" stroke="#231f20" stroke-width="1.3"/>
<line x1="615.30" x2="619.20" y1="188.70" y2="188.70" stroke="#231f20" stroke-width="1.3"/>
<line x1="615.30" x2="619.20" y1="181.14" y2="181.14" stroke="#231f20" stroke-width="1.3"/>
<line x1="615.30" x2="619.20" y1="174.59" y2="174.59" stroke="#231f20" stroke-width="1.3"/>
<line x1="615.30" x2="619.20" y1="168.82" y2="168.82" stroke="#231f20" stroke-width="1.3"/>
<line x1="612.60" x2="619.20" y1="163.65" y2="163.65" stroke="#231f20" stroke-width="1.6"/>
<line x1="615.30" x2="619.20" y1="129.66" y2="129.66" stroke="#231f20" stroke-width="1.3"/>
<line x1="615.30" x2="619.20" y1="109.78" y2="109.78" stroke="#231f20" stroke-width="1.3"/>
<line x1="615.30" x2="619.20" y1="95.68" y2="95.68" stroke="#231f20" stroke-width="1.3"/>
<line x1="615.30" x2="619.20" y1="84.74" y2="84.74" stroke="#231f20" stroke-width="1.3"/>
<line x1="615.30" x2="619.20" y1="75.80" y2="75.80" stroke="#231f20" stroke-width="1.3"/>
<line x1="615.30" x2="619.20" y1="68.24" y2="68.24" stroke="#231f20" stroke-width="1.3"/>
<line x1="615.30" x2="619.20" y1="61.69" y2="61.69" stroke="#231f20" stroke-width="1.3"/>
<line x1="615.30" x2="619.20" y1="55.92" y2="55.92" stroke="#231f20" stroke-width="1.3"/>
<line x1="612.60" x2="619.20" y1="50.75" y2="50.75" stroke="#231f20" stroke-width="1.6"/>
<line x1="615.30" x2="619.20" y1="16.76" y2="16.76" stroke="#231f20" stroke-width="1.3"/>
<line x1="119.00" x2="119.00" y1="394.70" y2="400.90" stroke="#231f20" stroke-width="1.6"/>
<line x1="308.75" x2="308.75" y1="394.70" y2="400.90" stroke="#231f20" stroke-width="1.6"/>
<line x1="498.50" x2="498.50" y1="394.70" y2="400.90" stroke="#231f20" stroke-width="1.6"/>
<line x1="682.00" x2="682.00" y1="394.70" y2="400.90" stroke="#231f20" stroke-width="1.6"/>
<line x1="825.50" x2="825.50" y1="394.70" y2="400.90" stroke="#231f20" stroke-width="1.6"/>
<line x1="969.00" x2="969.00" y1="394.70" y2="400.90" stroke="#231f20" stroke-width="1.6"/>
<text transform="matrix(0.9734,0,0,1.0000,32.469,126.700)" font-size="30">10</text><text transform="matrix(0.7986,0,0,0.6432,61.602,115.500)" font-size="30">−2</text>
<text transform="matrix(0.9734,0,0,1.0000,32.469,263.000)" font-size="30">10</text><text transform="matrix(0.8014,0,0,0.6683,61.598,252.100)" font-size="30">−3</text>
<text transform="matrix(0.9734,0,0,1.0000,32.469,399.300)" font-size="30">10</text><text transform="matrix(0.7960,0,0,0.6650,61.606,388.300)" font-size="30">−4</text>
<text transform="matrix(0.9734,0,0,1.0000,551.869,61.750)" font-size="30">10</text><text transform="matrix(0.7902,0,0,0.6667,581.015,50.750)" font-size="30">−1</text>
<text transform="matrix(0.9734,0,0,1.0000,551.869,174.650)" font-size="30">10</text><text transform="matrix(0.7986,0,0,0.6432,581.002,163.450)" font-size="30">−2</text>
<text transform="matrix(0.9734,0,0,1.0000,551.869,287.550)" font-size="30">10</text><text transform="matrix(0.8014,0,0,0.6683,580.998,276.650)" font-size="30">−3</text>
<text transform="matrix(0.9734,0,0,1.0000,551.869,400.450)" font-size="30">10</text><text transform="matrix(0.7960,0,0,0.6650,581.006,389.450)" font-size="30">−4</text>
<text transform="matrix(1.0745,0,0,1.0049,94.088,427.799)" font-size="30">−50</text>
<text transform="matrix(0.9687,0,0,1.0049,301.434,427.799)" font-size="30">0</text>
<text transform="matrix(0.9743,0,0,1.0049,483.944,427.799)" font-size="30">50</text>
<text transform="matrix(1.0722,0,0,1.0049,656.892,427.799)" font-size="30">−10</text>
<text transform="matrix(0.9687,0,0,1.0049,818.434,427.799)" font-size="30">0</text>
<text transform="matrix(0.9696,0,0,1.0049,955.079,427.799)" font-size="30">10</text>
<text transform="matrix(1.1319,0,0,1.0102,294.053,460.200)" font-size="30" font-style="italic">E</text>
<text transform="rotate(-90) matrix(0.9427,0,0,1.0248,-222.448,20.593)" font-size="30">DoS</text>
<text transform="matrix(1.1429,0,0,1.0051,783.457,465.700)" font-size="30" font-style="italic">E</text>
<text stroke="#fff" stroke-width="0.45" transform="matrix(1.4699,0,0,1.5721,805.200,474.328)" font-size="30">/</text>
<text stroke="#fff" stroke-width="0.3" transform="matrix(1.4586,0,0,1.2092,819.079,468.458)" font-size="30">√</text><line x1="842.00" x2="861.30" y1="440.40" y2="440.40" stroke="#231f20" stroke-width="1.35"/><text transform="matrix(1.0701,0,0,1.0051,844.528,465.700)" font-size="30" font-style="italic">L</text>
<text transform="rotate(-90) matrix(0.9328,0,0,1.0594,-255.240,540.082)" font-size="30">DoS</text>
<text transform="rotate(-90) matrix(1.1311,0,0,1.1393,-203.115,543.430)" font-size="30">×</text>
<text stroke="#fff" stroke-width="0.3" transform="rotate(-90) matrix(1.4586,0,0,1.2092,-181.421,543.058)" font-size="30">√</text><line transform="rotate(-90)" x1="-158.50" x2="-139.20" y1="515.00" y2="515.00" stroke="#231f20" stroke-width="1.35"/><text transform="rotate(-90) matrix(1.0701,0,0,1.0051,-155.972,540.300)" font-size="30" font-style="italic">L</text>
</svg>
</body></html>
